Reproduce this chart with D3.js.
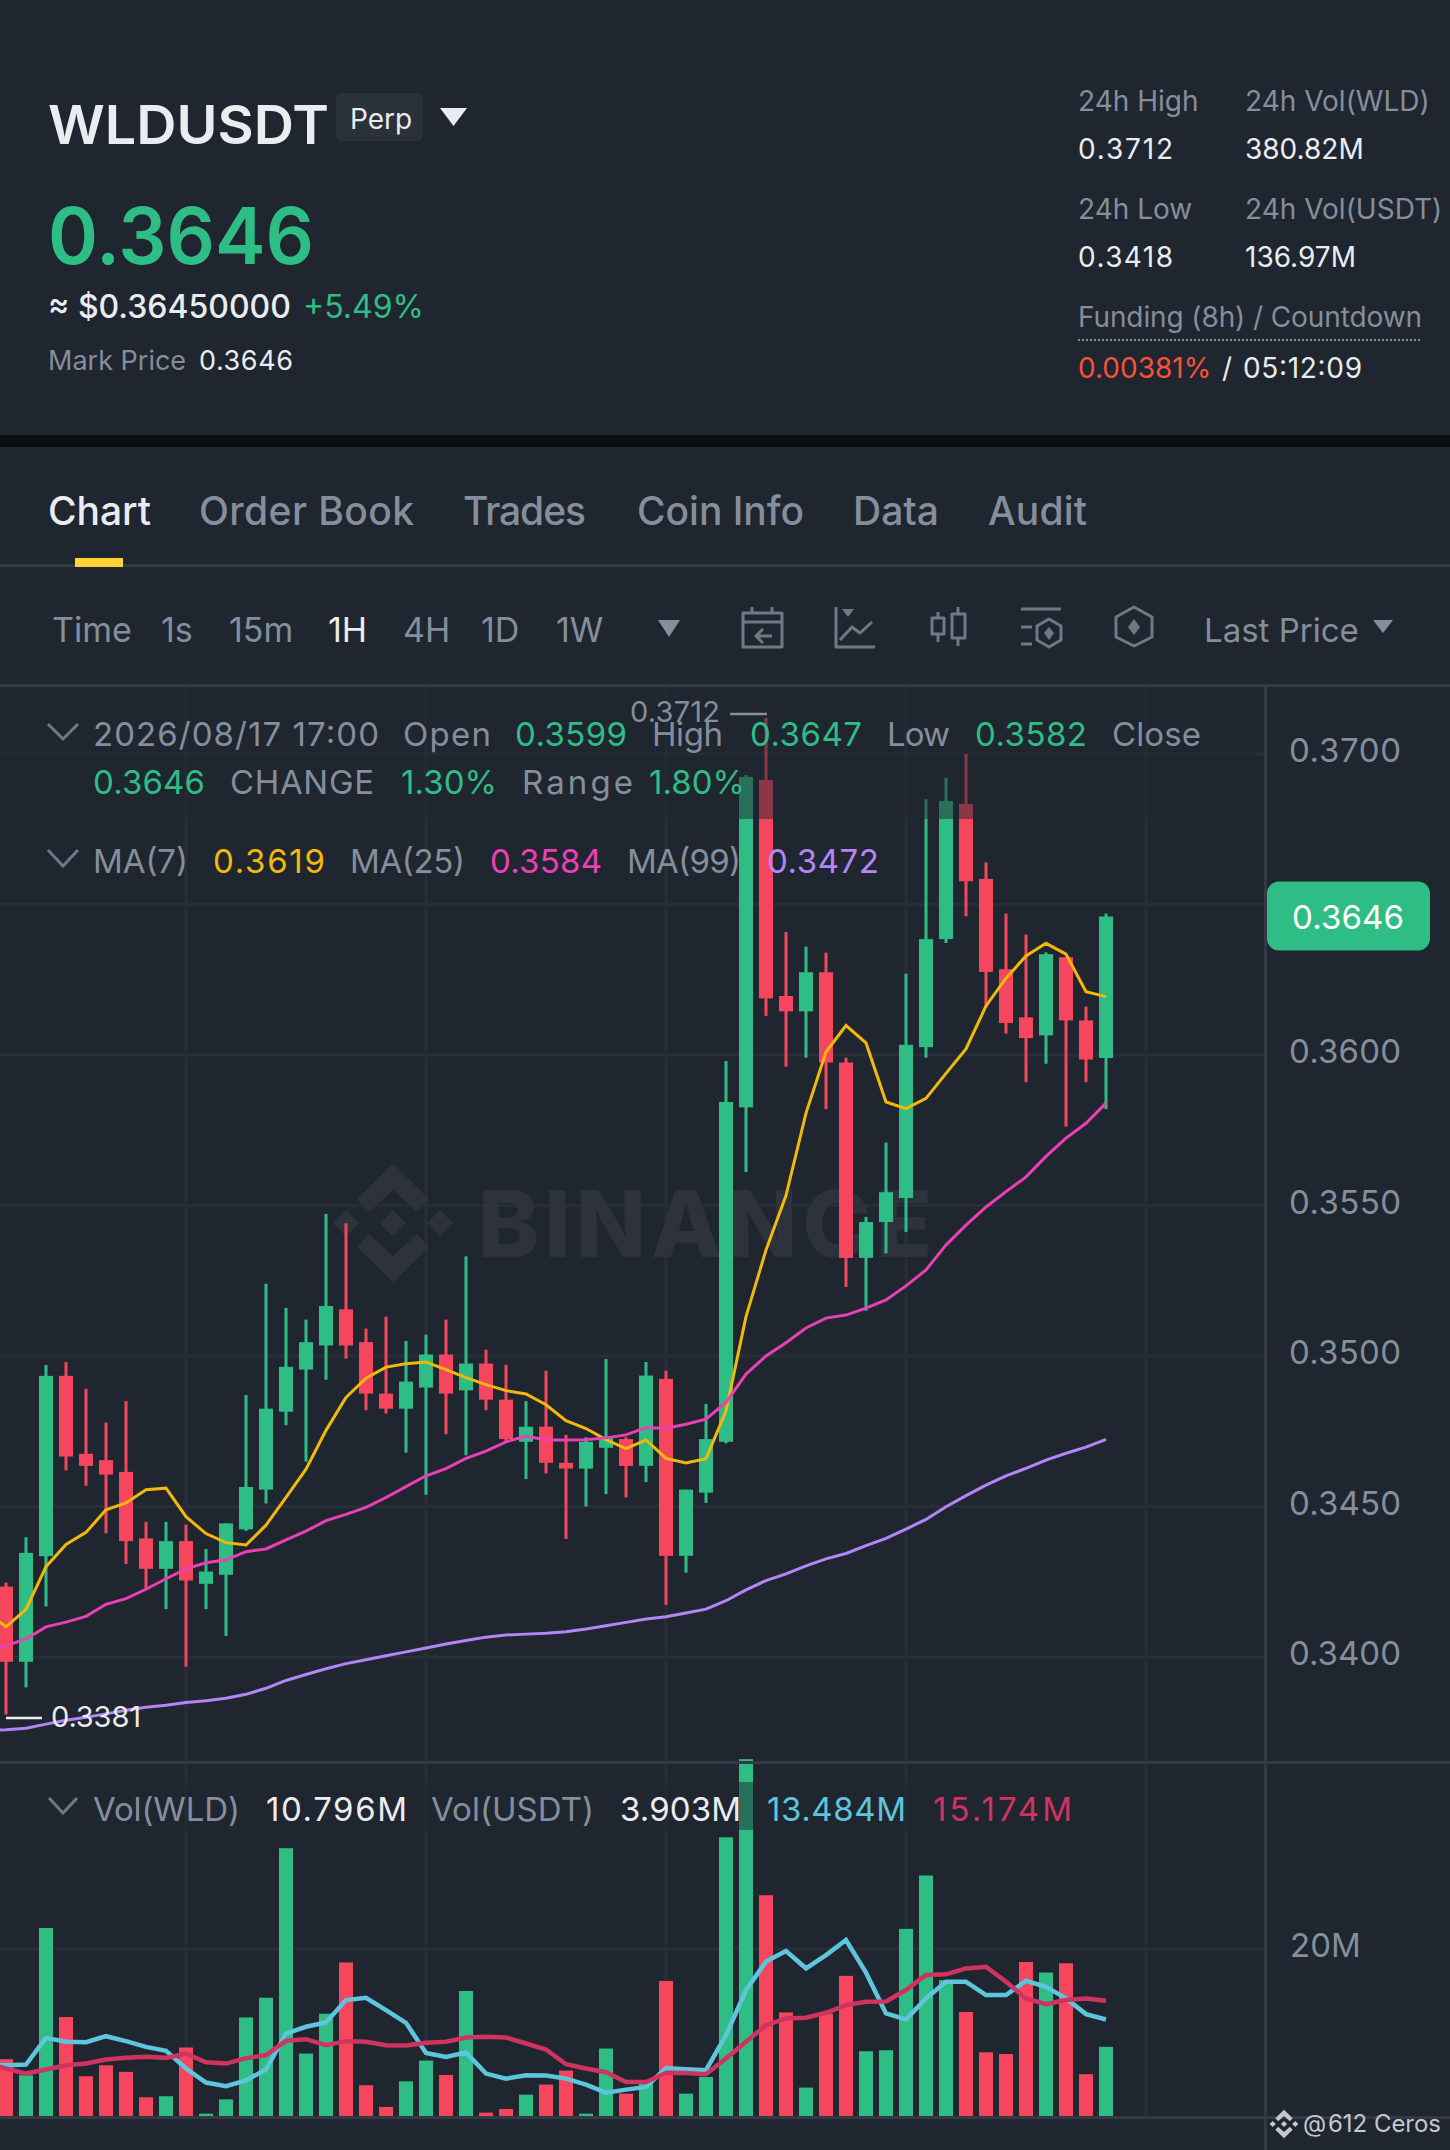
<!DOCTYPE html>
<html>
<head>
<meta charset="utf-8">
<script src="https://cdn.jsdelivr.net/npm/d3@7"></script>
<style>
  html, body { margin: 0; padding: 0; background: #1f2630; }
  svg { display: block; font-family: Inter, "Noto Sans", sans-serif; }
</style>
</head>
<body>
<div id="chart"></div>
<script>
// candles, oldest first
const candleOpen = [.34234,.33984,.34335,.34934,.34675,.34654,.34615,.34394,.34293,.34385,.34243,.34273,.34424,.34556,.34815,.34955,.35035,.35155,.35046,.34875,.34825,.34895,.35005,.34886,.34975,.34855,.34715,.34765,.34645,.34626,.34695,.34724,.34635,.34924,.34336,.34546,.34715,.35826,.36914,.36196,.36145,.36275,.35975,.35326,.35445,.35525,.36026,.36385,.36834,.36585,.36285,.36125,.36065,.36325,.36115,.3599];
const candleHigh = [.34247,.34398,.3497,.3498,.34891,.34779,.3485,.34449,.34449,.3444,.34359,.34444,.3487,.3524,.3516,.35121,.35472,.35441,.35091,.35131,.3505,.35071,.35121,.35331,.35021,.34971,.3485,.34951,.34738,.3473,.3499,.3473,.3498,.34951,.34556,.34841,.3598,.3693,.3712,.36409,.3636,.3634,.35991,.35462,.35709,.3627,.3685,.36921,.37,.3664,.3647,.364,.36341,.36325,.36161,.3647];
const candleLow = [.33809,.33899,.34168,.3462,.34569,.34411,.34309,.34227,.34159,.33968,.34159,.3407,.34419,.3451,.3477,.34649,.34921,.34991,.3482,.34809,.34679,.34539,.3474,.3467,.3482,.34715,.34591,.3461,.34392,.345,.34541,.3453,.34581,.34173,.3428,.34512,.3471,.35611,.3613,.35961,.35991,.3582,.35229,.3515,.35341,.35412,.35991,.36372,.36461,.36157,.36071,.3591,.35971,.35762,.3591,.3582];
const candleClose = [.33984,.34346,.34934,.34666,.34635,.34606,.34385,.34293,.34385,.34254,.34284,.34444,.34565,.34825,.34964,.35046,.35166,.35035,.34875,.34825,.34915,.35005,.34875,.34975,.34855,.34724,.34765,.34645,.34626,.34715,.3473,.34635,.34935,.34336,.34556,.34724,.35844,.36924,.36188,.36145,.36275,.35975,.35326,.35445,.35544,.36034,.36385,.36844,.36577,.36276,.36106,.36056,.36335,.36115,.35985,.3646];

// moving averages start one candle early, just off the left edge
const ma7 = [.34152,.341,.34158,.343,.34374,.34414,.34489,.34512,.34556,.34561,.34466,.3441,.3438,.34372,.34438,.3453,.34624,.34753,.34862,.34926,.34963,.34974,.3498,.34955,.34928,.34905,.34885,.34874,.34838,.34785,.34759,.34722,.34692,.34721,.3466,.34645,.34659,.34817,.35131,.35352,.35533,.35807,.3601,.36098,.3604,.35844,.35822,.35856,.35939,.3602,.36163,.36255,.36329,.36371,.36335,.3621,.36194];
const ma25 = [.34028,.34037,.3406,.341,.34116,.34135,.34175,.34194,.34225,.3426,.34293,.34313,.34323,.3435,.34359,.34389,.34418,.34453,.34474,.34497,.3453,.34566,.34602,.34626,.3466,.34684,.34715,.34734,.34721,.34721,.34722,.34728,.34738,.34762,.3476,.34773,.3479,.34846,.3494,.35,.35044,.35093,.35126,.35136,.35159,.35186,.35233,.35286,.35369,.35435,.35495,.35546,.35595,.35663,.35724,.35773,.3584];
const ma99 = [.33757,.33758,.33763,.33777,.3379,.338,.33811,.33823,.33833,.3384,.33849,.33855,.33863,.33876,.33896,.33922,.33942,.33961,.33978,.33991,.34004,.34017,.3403,.34043,.34055,.34066,.34073,.34076,.34079,.34084,.34093,.34104,.34115,.34126,.34134,.34146,.34159,.34187,.34223,.34254,.34276,.34303,.34326,.34344,.3437,.34394,.34425,.34457,.34499,.34536,.34571,.34602,.34627,.34654,.34677,.34697,.34723];

// volume in millions
const volume = [6.88,4.97,22.5,11.9,4.85,6.16,5.37,2.35,2.47,8.27,.4,2.1,11.85,14.2,32,7.55,12.3,18.4,3.78,1.2,4.25,6.72,5,15,.52,.95,2.66,3.86,5.53,.4,8.15,2.78,4,16.2,2.78,4.77,33.3,42.6,26.4,12.45,3.5,12.3,16.8,7.83,7.95,22.4,28.75,16.3,12.5,7.7,7.5,18.45,17.2,18.3,5.1,8.35];
const volMaShort = [6.24,6.16,6.24,9.42,8.95,8.91,9.62,9.03,8.35,7.87,5.77,4.1,3.66,4.37,5.65,9.94,10.74,11.25,13.92,14.2,12.72,11.21,7.63,7.16,7.67,5.17,4.57,4.97,4.93,4.57,3.86,2.9,3.26,3.58,5.84,5.69,5.57,9.74,15.1,18.5,19.76,17.7,19.28,21.07,17.18,12.33,11.61,14.12,16.1,16.1,14.51,14.51,16.22,15.5,14.12,12.25,11.61];
const volMaLong = [6.44,5.77,5.17,5.65,6.16,6.36,6.84,7.04,7.16,7.04,7.55,6.52,6.36,7,7.36,9.07,9.26,8.55,9.03,8.95,8.55,8.51,8.83,8.95,9.46,9.54,9.46,8.75,8.03,6.28,5.77,5.33,4.17,4.17,5.25,5.25,5.09,6.96,8.95,10.93,11.73,11.81,12.41,13.32,13.72,13.76,15.11,16.9,16.98,17.69,17.89,16.1,14.12,13.44,13.92,14.12,13.84];

const priceGrid = [.34, .345, .35, .355, .36, .365, .37];
const priceTicks = [.34, .345, .35, .355, .36, .37];
const volTicks = [20];
const timeGrid = [9, 21, 33, 45, 57];

const tabLabels = ["Chart", "Order Book", "Trades", "Coin Info", "Data", "Audit"];
const intervalLabels = ["Time", "1s", "15m", "1H", "4H", "1D", "1W"];

const green = "#2ebd85", red = "#f6465d", bg = "#1f2630";
const grey = "#848e9c", light = "#eaecef", lineCol = "#333a45", gridCol = "#282e38";

const width = 1450, height = 2150;
const svg = d3.select("#chart").append("svg")
    .attr("width", width)
    .attr("height", height);

svg.append("rect").attr("width", width).attr("height", height).attr("fill", bg);

// w forces the text to the width it has in the picture, the font is not the same
function label(x, y, str, fill, size, weight, w) {
    const t = svg.append("text")
        .attr("x", x)
        .attr("y", y)
        .attr("fill", fill)
        .style("font-size", size + "px")
        .style("font-weight", weight || 400)
        .text(str);
    if (w) t.attr("textLength", w);
    return t;
}

function triangle(x0, x1, y0, y1, fill) {
    svg.append("path")
        .attr("d", `M${x0},${y0}L${x1},${y0}L${(x0 + x1) / 2},${y1}Z`)
        .attr("fill", fill);
}

function chevron(x0, x1, y0, y1) {
    svg.append("path")
        .attr("d", `M${x0},${y0}L${(x0 + x1) / 2},${y1}L${x1},${y0}`)
        .attr("fill", "none")
        .attr("stroke", "#6f7885")
        .attr("stroke-width", 3);
}

// ---------- header
label(48, 144, "WLDUSDT", light, 53, 600, 281).attr("lengthAdjust", "spacingAndGlyphs");
svg.append("rect").attr("x", 336).attr("y", 93).attr("width", 87).attr("height", 48)
    .attr("rx", 6).attr("fill", "#2b3139");
label(350, 129, "Perp", light, 28, 400);
triangle(440, 467, 108, 126, light);

label(48, 264, "0.3646", green, 78, 600, 266).attr("lengthAdjust", "spacingAndGlyphs");
label(48, 318, "≈ $0.36450000", light, 32, 500);
label(303, 318, "+5.49%", green, 32, 400);
label(48, 370, "Mark Price", grey, 27, 400);
label(199, 370, "0.3646", light, 27, 400, 94);

label(1078, 111, "24h High", grey, 28);
label(1245, 111, "24h Vol(WLD)", grey, 28);
label(1078, 159, "0.3712", light, 28, 400, 95);
label(1245, 159, "380.82M", light, 28);
label(1078, 219, "24h Low", grey, 28);
label(1245, 219, "24h Vol(USDT)", grey, 28);
label(1078, 267, "0.3418", light, 28, 400, 95);
label(1245, 267, "136.97M", light, 28);
label(1078, 327, "Funding (8h) / Countdown", grey, 28, 400, 344);
svg.append("line").attr("x1", 1078).attr("x2", 1422).attr("y1", 340).attr("y2", 340)
    .attr("stroke", grey).attr("stroke-width", 2).attr("stroke-dasharray", "2,2");
label(1078, 378, "0.00381%", "#f6513b", 28);
label(1222, 378, "/", light, 28);
label(1243, 378, "05:12:09", light, 28, 400, 119);

svg.append("rect").attr("y", 435).attr("width", width).attr("height", 12).attr("fill", "#0b0e11");

// ---------- tabs
const tabX = [48, 199, 463, 637, 853, 988];
const tabW = [103, 215, 123, 167, 86, 99];
tabLabels.forEach((t, i) => {
    label(tabX[i], 525, t, i === 0 ? light : grey, 39, 500, tabW[i]);
});
svg.append("rect").attr("y", 564).attr("width", width).attr("height", 3).attr("fill", lineCol);
svg.append("rect").attr("x", 75).attr("y", 558).attr("width", 48).attr("height", 9).attr("fill", "#fcd535");

// ---------- interval row
const intervalX = [52, 161, 229, 328, 403, 481, 556];
intervalLabels.forEach((t, i) => {
    label(intervalX[i], 642, t, t === "1H" ? light : grey, 34, 400);
});
triangle(658, 680, 620, 637, grey);
label(1204, 642, "Last Price", grey, 33);
triangle(1373, 1393, 620, 633, grey);

// toolbar icons, rough copies
const iconCol = "#6f7885";
function icon(d, filled) {
    svg.append("path").attr("d", d)
        .attr("fill", filled ? iconCol : "none")
        .attr("stroke", filled ? "none" : iconCol)
        .attr("stroke-width", filled ? 0 : 3)
        .attr("stroke-linejoin", "round");
}
icon("M743,613H782V647H743ZM743,622H782M752,607V613M772,607V613M772,636H756M763,629L756,636L763,643");
icon("M836,607V647H875M840,640L852,627L860,633L872,622");
icon("M842,609H854L848,617Z", true);
icon("M932,618H944V634H932ZM938,612V618M938,634V642M952,614H965V638H952ZM958,607V614M958,638V646");
icon("M1021,609H1061M1021,627H1032M1021,644H1032M1049,619L1061,626V640L1049,647L1037,640V626Z");
icon("M1049,627L1054,633L1049,640L1044,633Z", true);
icon("M1134,607L1152,617V637L1134,646L1116,637V617Z");
icon("M1134,619L1140,627L1134,635L1128,627Z", true);

// ---------- scales
const x = d3.scaleLinear().domain([0, 55]).range([6, 1106]);
const y = d3.scaleLinear().domain([.34, .37]).range([1657, 754]);
const yVol = d3.scaleLinear().domain([0, 20]).range([2117, 1949]);

// ---------- grid
const grid = svg.append("g").attr("stroke", gridCol).attr("stroke-width", 3);
grid.selectAll(".gx").data(timeGrid).enter().append("line")
    .attr("x1", d => x(d)).attr("x2", d => x(d))
    .attr("y1", 687).attr("y2", 2117);
grid.selectAll(".gy").data(priceGrid).enter().append("line")
    .attr("x1", 0).attr("x2", 1265)
    .attr("y1", d => y(d)).attr("y2", d => y(d));
grid.selectAll(".gv").data(volTicks).enter().append("line")
    .attr("x1", 0).attr("x2", 1265)
    .attr("y1", d => yVol(d)).attr("y2", d => yVol(d));

// ---------- BINANCE watermark
const logo = "M0,-59L36,-24L24,-11L0,-33L-24,-11L-36,-24Z" +
    "M0,59L36,24L24,11L0,33L-24,11L-36,24Z" +
    "M0,-13L13,0L0,13L-13,0Z" +
    "M-47,-13L-34,0L-47,13L-60,0Z" +
    "M47,-13L60,0L47,13L34,0Z";
svg.append("path").attr("d", logo).attr("fill", "#2e323d")
    .attr("transform", "translate(393,1223)");
svg.append("text")
    .attr("x", 478)
    .attr("y", 1257)
    .attr("textLength", 454)
    .attr("fill", "#2e323d")
    .style("font-size", "92px")
    .style("font-weight", 800)
    .text("BINANCE");

// ---------- volume bars
svg.append("g").selectAll("rect")
    .data(volume)
    .enter()
    .append("rect")
    .attr("x", (d, i) => x(i) - 7)
    .attr("width", 14)
    .attr("y", d => yVol(d))
    .attr("height", d => yVol(0) - yVol(d))
    .attr("fill", (d, i) => candleClose[i] >= candleOpen[i] ? green : red);

// ---------- candles
const candles = svg.append("g").selectAll("g")
    .data(candleOpen)
    .enter()
    .append("g")
    .attr("fill", (d, i) => candleClose[i] >= candleOpen[i] ? green : red);

candles.append("rect")
    .attr("x", (d, i) => x(i) - 1.5)
    .attr("width", 3)
    .attr("y", (d, i) => y(candleHigh[i]))
    .attr("height", (d, i) => y(candleLow[i]) - y(candleHigh[i]));

candles.append("rect")
    .attr("x", (d, i) => x(i) - 7)
    .attr("width", 14)
    .attr("y", (d, i) => y(Math.max(candleOpen[i], candleClose[i])))
    .attr("height", (d, i) => Math.abs(y(candleOpen[i]) - y(candleClose[i])));

// ---------- moving averages
function maLine(values, scale, colour, w) {
    const line = d3.line()
        .x((d, i) => x(i - 1))
        .y(d => scale(d));
    svg.append("path")
        .datum(values)
        .attr("d", line)
        .attr("fill", "none")
        .attr("stroke", colour)
        .attr("stroke-width", w);
}
maLine(ma7, y, "#f0b90b", 3);
maLine(ma25, y, "#eb40b5", 3);
maLine(ma99, y, "#b385f8", 3);
maLine(volMaShort, yVol, "#5dc5dc", 4.5);
maLine(volMaLong, yVol, "#cf3460", 4.5);

// legend backing dims whatever is under it
svg.append("rect").attr("y", 687).attr("width", 1255).attr("height", 132)
    .attr("fill", bg).attr("fill-opacity", 0.5);
svg.append("rect").attr("y", 1782).attr("width", 1100).attr("height", 48)
    .attr("fill", bg).attr("fill-opacity", 0.5);

// ---------- pane borders
svg.append("rect").attr("y", 684).attr("width", width).attr("height", 3).attr("fill", lineCol);
svg.append("rect").attr("y", 1761).attr("width", width).attr("height", 3).attr("fill", lineCol);
svg.append("rect").attr("y", 2116).attr("width", width).attr("height", 3).attr("fill", lineCol);
svg.append("rect").attr("x", 1264).attr("y", 687).attr("width", 3).attr("height", 1463).attr("fill", lineCol);

// ---------- axes
const priceAxis = svg.append("g")
    .attr("transform", "translate(1265,0)")
    .call(d3.axisRight(y).tickValues(priceTicks).tickFormat(d3.format(".4f")).tickSize(0).tickPadding(24));
const volAxis = svg.append("g")
    .attr("transform", "translate(1265,0)")
    .call(d3.axisRight(yVol).tickValues(volTicks).tickFormat(d => d + "M").tickSize(0).tickPadding(25));
[priceAxis, volAxis].forEach(a => {
    a.select(".domain").remove();
    a.selectAll("text")
        .attr("y", -3)
        .attr("fill", grey)
        .style("font-family", "Inter, 'Noto Sans', sans-serif")
        .style("font-size", "33px");
});
priceAxis.selectAll("text").attr("textLength", 112);

// last price badge
svg.append("rect").attr("x", 1267).attr("width", 163).attr("height", 69).attr("rx", 12)
    .attr("y", y(.3646) - 35).attr("fill", green);
label(1292, y(.3646) + 12, "0.3646", "#ffffff", 33, 400, 112);

// high / low markers
label(630, 722, "0.3712", grey, 29, 400, 90);
svg.append("line").attr("x1", 730).attr("x2", 767).attr("y1", 714).attr("y2", 714).attr("stroke", grey).attr("stroke-width", 2.5);
svg.append("line").attr("x1", 6).attr("x2", 42).attr("y1", 1718).attr("y2", 1718).attr("stroke", light).attr("stroke-width", 2.5);
label(51, 1727, "0.3381", light, 29, 400, 90);

// ---------- legend text
chevron(48, 78, 724, 739);
label(93, 746, "2026/08/17 17:00", grey, 33, 400, 286);
label(403, 746, "Open", grey, 33, 400, 88);
label(515, 746, "0.3599", green, 33, 400, 112);
label(652, 746, "High", grey, 33, 400, 71);
label(750, 746, "0.3647", green, 33, 400, 112);
label(887, 746, "Low", grey, 33, 400, 63);
label(975, 746, "0.3582", green, 33, 400, 112);
label(1112, 746, "Close", grey, 33, 400, 89);

label(93, 794, "0.3646", green, 33, 400, 112);
label(230, 794, "CHANGE", grey, 33, 400, 144);
label(401, 794, "1.30%", green, 33, 400, 96);
label(522, 794, "Range", grey, 33, 400, 111);
label(649, 794, "1.80%", green, 33, 400, 96);

chevron(48, 78, 850, 866);
label(93, 873, "MA(7)", grey, 33, 400, 95);
label(213, 873, "0.3619", "#f0b90b", 33, 400, 112);
label(350, 873, "MA(25)", grey, 33, 400, 115);
label(490, 873, "0.3584", "#eb40b5", 33, 400, 112);
label(627, 873, "MA(99)", grey, 33, 400, 114);
label(767, 873, "0.3472", "#b385f8", 33, 400, 112);

chevron(49, 77, 1798, 1813);
label(93, 1821, "Vol(WLD)", grey, 33, 400, 147);
label(266, 1821, "10.796M", light, 33, 400, 141);
label(431, 1821, "Vol(USDT)", grey, 33, 400, 163);
label(620, 1821, "3.903M", light, 33, 400, 121);
label(767, 1821, "13.484M", "#5dc5dc", 33, 400, 139);
label(933, 1821, "15.174M", "#cf3460", 33, 400, 139);

// ---------- credit in the corner
svg.append("path").attr("d", logo).attr("fill", "#c4c8ce")
    .attr("transform", "translate(1284,2124) scale(0.24)");
label(1303, 2132, "@", "#c4c8ce", 24);
label(1328, 2132, "612 Ceros", "#c4c8ce", 24, 400, 113);
</script>
</body>
</html>
